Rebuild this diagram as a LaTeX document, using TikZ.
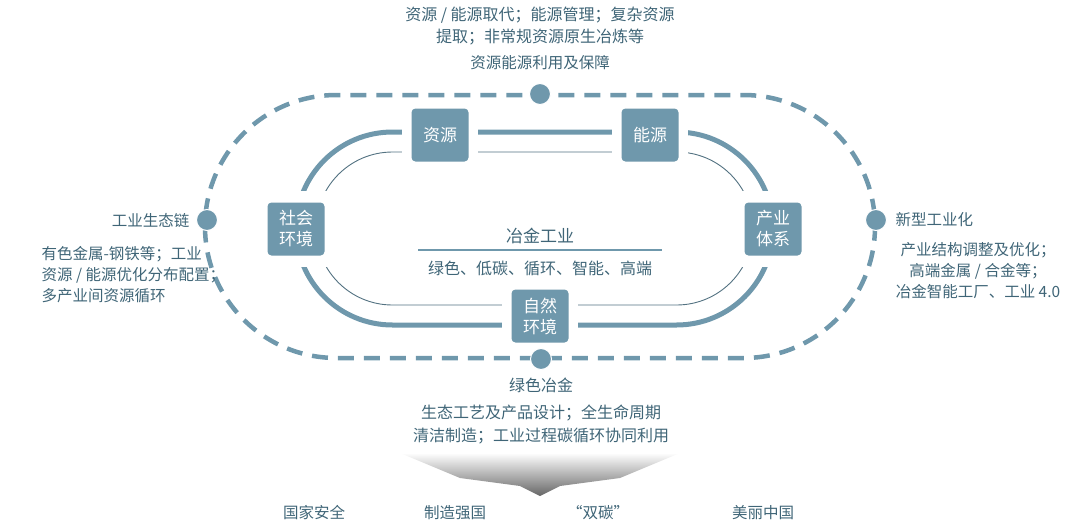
\documentclass[tikz,border=0pt]{standalone}
\usepackage{fontspec}
\setmainfont{Noto Sans CJK SC}
\usetikzlibrary{shadings}
\definecolor{sb}{HTML}{6F98AC}
\definecolor{tx}{HTML}{3F6577}
\begin{document}
\begin{tikzpicture}[x=1pt,y=-1pt,
  lab/.style={text=tx,font=\fontsize{15.5}{19}\selectfont,align=center},
  box/.style={fill=sb,rounded corners=4pt,minimum width=57pt,minimum height=53pt,text=white,font=\fontsize{17}{21}\selectfont,align=center,inner sep=2pt},
  dot/.style={circle,fill=sb,draw=white,line width=1pt,minimum size=21pt,inner sep=0pt},
  wbox/.style={fill=white,inner sep=0pt}]
\useasboundingbox (0,0) rectangle (1080,528);
% outer dashed
\draw[sb,line width=4.5pt,dash pattern=on 16pt off 10pt,rounded corners=131.5pt] (205,95) rectangle (875,358);
% thick track
\draw[sb,line width=5pt,rounded corners=96.5pt] (296,132) rectangle (773,325);
% thin track
\draw[sb!75!black,line width=0.9pt,rounded corners=76.5pt] (316,152) rectangle (753,305);
% white gaps around boxes
\node[wbox,minimum width=76pt,minimum height=62pt] at (440,135) {};
\node[wbox,minimum width=76pt,minimum height=62pt] at (650,135) {};
\node[wbox,minimum width=62pt,minimum height=76pt] at (296,229) {};
\node[wbox,minimum width=62pt,minimum height=76pt] at (773,229) {};
\node[wbox,minimum width=76pt,minimum height=62pt] at (540,316) {};
\node[box] (zy) at (440,135) {资源};
\node[box] (ny) at (650,135) {能源};
\node[box] (sh) at (296,229) {社会\\环境};
\node[box] (cy) at (773,229) {产业\\体系};
\node[box] (zr) at (540,316) {自然\\环境};
% dots
\node[dot] (dt) at (540,94) {};
\node[dot] (dl) at (207,220) {};
\node[dot] (dr) at (876,220) {};
\node[dot] (db) at (541,359) {};
% center
\node[lab,font=\fontsize{17}{20}\selectfont] (yj) at (540,236) {冶金工业};
\draw[sb,line width=1.5pt] (418,250) -- (662,250);
\node[lab,font=\fontsize{16}{19}\selectfont] (ls) at (540,268) {绿色、低碳、循环、智能、高端};
% top
\node[lab,font=\fontsize{16}{22}\selectfont] (tt) at (540,26) {资源 / 能源取代；能源管理；复杂资源\\提取；非常规资源原生冶炼等};
\node[lab] (tn) at (540,63) {资源能源利用及保障};
% left
\node[lab,anchor=east] (ln) at (193,221) {工业生态链};
\node[lab,align=left,anchor=north west,font=\fontsize{15.5}{21}\selectfont] (lt) at (38,243) {有色金属-钢铁等；工业\\资源 / 能源优化分布配置；\\多产业间资源循环};
% right
\node[lab,anchor=west] (rn) at (892,220) {新型工业化};
\node[lab,align=center,anchor=north,font=\fontsize{15.5}{21}\selectfont] (rt) at (978,239) {产业结构调整及优化；\\高端金属 / 合金等；\\冶金智能工厂、工业 4.0};
% bottom
\node[lab,font=\fontsize{16}{19}\selectfont] (bn) at (541,385) {绿色冶金};
\node[lab,font=\fontsize{16}{23}\selectfont] (bt) at (541,424) {生态工艺及产品设计；全生命周期\\清洁制造；工业过程碳循环协同利用};
% arrow
\shade[top color=white,bottom color=black!60] (400,453) -- (680,453) -- (620,478) -- (560,486) -- (540,496) -- (520,486) -- (460,478) -- cycle;
\node[lab] (g1) at (314,513) {国家安全};
\node[lab] (g2) at (455,513) {制造强国};
\node[lab] (g3) at (598,513) {“双碳”};
\node[lab] (g4) at (763,513) {美丽中国};
\end{tikzpicture}
\end{document}
